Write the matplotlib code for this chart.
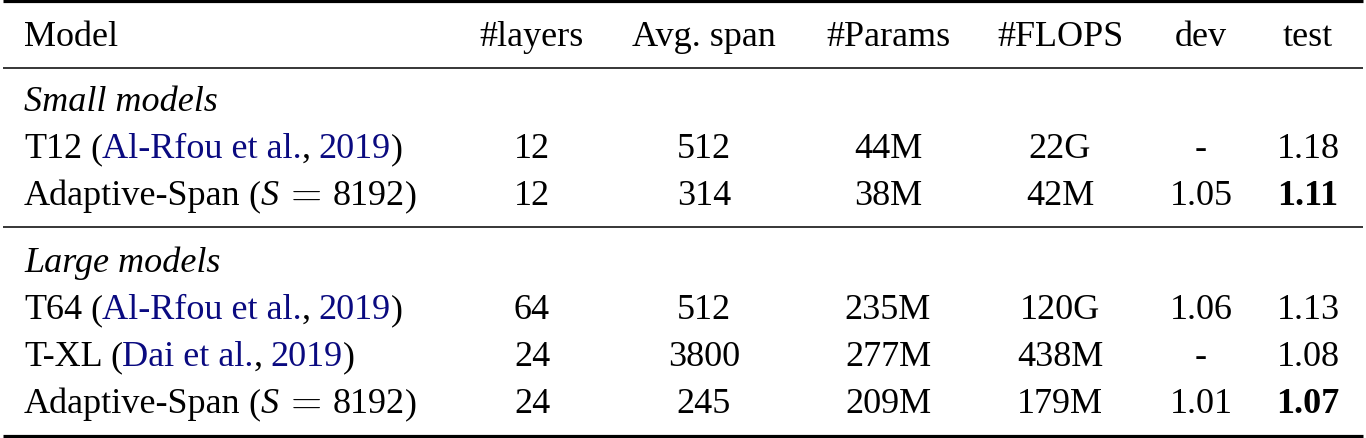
import matplotlib
matplotlib.use("Agg")
import matplotlib.pyplot as plt

plt.rcParams['font.family'] = ['Liberation Serif', 'DejaVu Serif']
plt.rcParams['mathtext.fontset'] = 'custom'
plt.rcParams['mathtext.rm'] = 'Liberation Serif'
plt.rcParams['mathtext.it'] = 'Liberation Serif:italic'

# table content
headers = ["Model", "#layers", "Avg. span", "#Params", "#FLOPS", "dev", "test"]
groups = ["Small models", "Large models"]
model_names = ["T12", "Adaptive-Span", "T64", "T-XL", "Adaptive-Span"]
citations = ["Al-Rfou et al.", None, "Al-Rfou et al.", "Dai et al.", None]
cite_years = ["2019", None, "2019", "2019", None]
span_value = [None, "8192", None, None, "8192"]
n_layers = ["12", "12", "64", "24", "24"]
avg_span = ["512", "314", "512", "3800", "245"]
n_params = ["44M", "38M", "235M", "277M", "209M"]
n_flops = ["22G", "42M", "120G", "438M", "179M"]
dev_bpc = ["-", "1.05", "1.06", "-", "1.01"]
test_bpc = ["1.18", "1.11", "1.13", "1.08", "1.07"]
best_test = [False, True, False, False, True]

W, H = 1366, 439
fig = plt.figure(figsize=(W / 100, H / 100), dpi=100)
ax = fig.add_axes([0, 0, 1, 1])
ax.set_xlim(0, W)
ax.set_ylim(H, 0)
ax.axis('off')

fs = 26
cite_color = '#0a0a80'
col_x = [24, 532, 704, 888, 1060, 1201, 1308]
header_y = 46
group_y = [111, 272]
row_y = [158, 205, 319, 366, 413]

fig.canvas.draw()
renderer = fig.canvas.get_renderer()


def width_of(s, **kw):
    t = ax.text(0, 0, s, fontsize=fs, **kw)
    w = t.get_window_extent(renderer).width
    t.remove()
    return w


space_w = width_of("T T") - width_of("TT")


def draw_pieces(x, y, pieces):
    # pieces: (text, colour, extra kwargs); a number means a horizontal gap in px
    for p in pieces:
        if isinstance(p, (int, float)):
            x += p
            continue
        txt, color, kw = p
        kw = dict(kw)
        size = kw.pop('fontsize', fs)
        t = ax.text(x, y, txt, fontsize=size, color=color, ha='left', va='baseline', **kw)
        x += t.get_window_extent(renderer).width


# rules
ax.plot([3, 1363], [1.5, 1.5], color='black', lw=2.3, solid_capstyle='butt')
ax.plot([3, 1363], [69, 69], color='black', lw=1.1, solid_capstyle='butt')
ax.plot([3, 1363], [228, 228], color='black', lw=1.1, solid_capstyle='butt')
ax.plot([3, 1363], [436.8, 436.8], color='black', lw=2.3, solid_capstyle='butt')

# header
for i, h in enumerate(headers):
    ax.text(col_x[i], header_y, h, fontsize=fs, ha='left' if i == 0 else 'center',
            va='baseline')

# group labels
for g, y in zip(groups, group_y):
    ax.text(col_x[0], y, g, fontsize=fs, style='italic', ha='left', va='baseline')

# rows
for r in range(len(model_names)):
    y = row_y[r]
    pieces = [(model_names[r], 'black', {}), space_w, ("(", 'black', {})]
    if citations[r] is not None:
        pieces += [(citations[r], cite_color, {}), (",", 'black', {}), space_w,
                   (cite_years[r], cite_color, {}), (")", 'black', {})]
    else:
        pieces += [("S", 'black', {'style': 'italic'}), 5,
                   ("$=$", 'black', {'math_fontfamily': 'cm', 'fontsize': 29}), 11,
                   (span_value[r], 'black', {}), (")", 'black', {})]
    draw_pieces(col_x[0], y, pieces)

    cells = [n_layers[r], avg_span[r], n_params[r], n_flops[r], dev_bpc[r]]
    for c, val in enumerate(cells):
        ax.text(col_x[c + 1], y, val, fontsize=fs, ha='center', va='baseline')
    ax.text(col_x[6], y, test_bpc[r], fontsize=fs, ha='center', va='baseline',
            fontweight='bold' if best_test[r] else 'normal')

fig.savefig("out.png", dpi=100)
